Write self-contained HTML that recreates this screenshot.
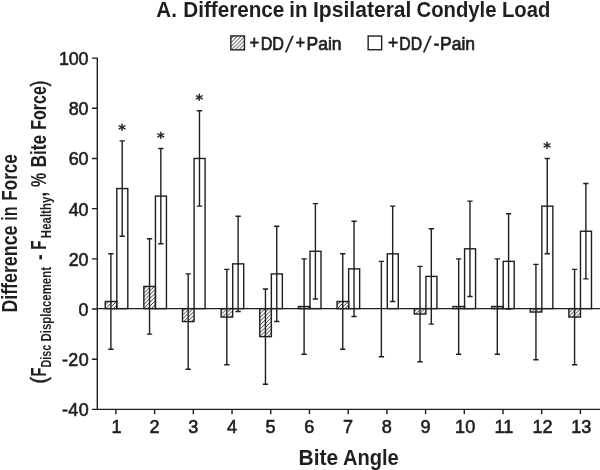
<!DOCTYPE html>
<html lang="en"><head><meta charset="utf-8"><title>A. Difference in Ipsilateral Condyle Load</title>
<style>
html,body{margin:0;padding:0;background:#fff;}
body{width:600px;height:470px;overflow:hidden;}
svg{display:block;font-family:"Liberation Sans",sans-serif;}
.b{font-weight:bold;}
</style></head><body>
<svg width="600" height="470" viewBox="0 0 600 470">
<defs>
<pattern id="h" width="3.8" height="3.8" patternUnits="userSpaceOnUse">
<rect width="3.8" height="3.8" fill="#fff"/>
<path d="M-0.95,0.95 L0.95,-0.95 M0,3.8 L3.8,0 M2.85,4.75 L4.75,2.85" stroke="#262626" stroke-width="0.92"/>
</pattern>
</defs>
<rect width="600" height="470" fill="#fff"/>

<rect x="230.85" y="35.95" width="13.6" height="13.9" fill="url(#h)" stroke="#1f1f1f" stroke-width="1.4"/>
<rect x="368.15" y="36.05" width="13.5" height="13.7" fill="#fff" stroke="#1f1f1f" stroke-width="1.4"/>
<g><rect x="105.20" y="301.50" width="11.60" height="7.13" fill="url(#h)"/>
<rect x="116.80" y="188.58" width="11.00" height="120.05" fill="#fff"/>
<rect x="105.20" y="301.50" width="11.60" height="7.13" fill="none" stroke="#1f1f1f" stroke-width="1.4"/>
<path d="M110.90,253.82V349.18M108.25,253.82h5.3M108.25,349.18h5.3" fill="none" stroke="#1f1f1f" stroke-width="1.4"/>
<rect x="116.80" y="188.58" width="11.00" height="120.05" fill="none" stroke="#1f1f1f" stroke-width="1.4"/>
<path d="M122.20,140.91V236.26M119.55,140.91h5.3M119.55,236.26h5.3" fill="none" stroke="#1f1f1f" stroke-width="1.4"/>
<rect x="143.84" y="286.44" width="11.60" height="22.18" fill="url(#h)"/>
<rect x="155.44" y="196.11" width="11.00" height="112.52" fill="#fff"/>
<rect x="143.84" y="286.44" width="11.60" height="22.18" fill="none" stroke="#1f1f1f" stroke-width="1.4"/>
<path d="M149.54,238.77V334.12M146.89,238.77h5.3M146.89,334.12h5.3" fill="none" stroke="#1f1f1f" stroke-width="1.4"/>
<rect x="155.44" y="196.11" width="11.00" height="112.52" fill="none" stroke="#1f1f1f" stroke-width="1.4"/>
<path d="M160.84,148.43V243.79M158.19,148.43h5.3M158.19,243.79h5.3" fill="none" stroke="#1f1f1f" stroke-width="1.4"/>
<rect x="182.48" y="308.63" width="11.60" height="12.95" fill="url(#h)"/>
<rect x="194.08" y="158.47" width="11.00" height="150.16" fill="#fff"/>
<rect x="182.48" y="308.63" width="11.60" height="12.95" fill="none" stroke="#1f1f1f" stroke-width="1.4"/>
<path d="M188.18,273.90V369.25M185.53,273.90h5.3M185.53,369.25h5.3" fill="none" stroke="#1f1f1f" stroke-width="1.4"/>
<rect x="194.08" y="158.47" width="11.00" height="150.16" fill="none" stroke="#1f1f1f" stroke-width="1.4"/>
<path d="M199.48,110.79V206.15M196.83,110.79h5.3M196.83,206.15h5.3" fill="none" stroke="#1f1f1f" stroke-width="1.4"/>
<rect x="221.12" y="308.63" width="11.60" height="8.43" fill="url(#h)"/>
<rect x="232.72" y="263.86" width="11.00" height="44.77" fill="#fff"/>
<rect x="221.12" y="308.63" width="11.60" height="8.43" fill="none" stroke="#1f1f1f" stroke-width="1.4"/>
<path d="M226.82,269.38V364.73M224.17,269.38h5.3M224.17,364.73h5.3" fill="none" stroke="#1f1f1f" stroke-width="1.4"/>
<rect x="232.72" y="263.86" width="11.00" height="44.77" fill="none" stroke="#1f1f1f" stroke-width="1.4"/>
<path d="M238.12,216.18V311.54M235.47,216.18h5.3M235.47,311.54h5.3" fill="none" stroke="#1f1f1f" stroke-width="1.4"/>
<rect x="259.76" y="308.63" width="11.60" height="28.00" fill="url(#h)"/>
<rect x="271.36" y="273.90" width="11.00" height="34.73" fill="#fff"/>
<rect x="259.76" y="308.63" width="11.60" height="28.00" fill="none" stroke="#1f1f1f" stroke-width="1.4"/>
<path d="M265.46,288.95V384.31M262.81,288.95h5.3M262.81,384.31h5.3" fill="none" stroke="#1f1f1f" stroke-width="1.4"/>
<rect x="271.36" y="273.90" width="11.00" height="34.73" fill="none" stroke="#1f1f1f" stroke-width="1.4"/>
<path d="M276.76,226.22V321.57M274.11,226.22h5.3M274.11,321.57h5.3" fill="none" stroke="#1f1f1f" stroke-width="1.4"/>
<rect x="298.40" y="306.52" width="11.60" height="2.11" fill="url(#h)"/>
<rect x="310.00" y="251.31" width="11.00" height="57.31" fill="#fff"/>
<rect x="298.40" y="306.52" width="11.60" height="2.11" fill="none" stroke="#1f1f1f" stroke-width="1.4"/>
<path d="M304.10,258.84V354.20M301.45,258.84h5.3M301.45,354.20h5.3" fill="none" stroke="#1f1f1f" stroke-width="1.4"/>
<rect x="310.00" y="251.31" width="11.00" height="57.31" fill="none" stroke="#1f1f1f" stroke-width="1.4"/>
<path d="M315.40,203.64V298.99M312.75,203.64h5.3M312.75,298.99h5.3" fill="none" stroke="#1f1f1f" stroke-width="1.4"/>
<rect x="337.04" y="301.50" width="11.60" height="7.13" fill="url(#h)"/>
<rect x="348.64" y="268.88" width="11.00" height="39.75" fill="#fff"/>
<rect x="337.04" y="301.50" width="11.60" height="7.13" fill="none" stroke="#1f1f1f" stroke-width="1.4"/>
<path d="M342.74,253.82V349.18M340.09,253.82h5.3M340.09,349.18h5.3" fill="none" stroke="#1f1f1f" stroke-width="1.4"/>
<rect x="348.64" y="268.88" width="11.00" height="39.75" fill="none" stroke="#1f1f1f" stroke-width="1.4"/>
<path d="M354.04,221.20V316.56M351.39,221.20h5.3M351.39,316.56h5.3" fill="none" stroke="#1f1f1f" stroke-width="1.4"/>
<rect x="387.28" y="253.82" width="11.00" height="54.80" fill="#fff"/>
<path d="M381.38,261.35V356.70M378.73,261.35h5.3M378.73,356.70h5.3" fill="none" stroke="#1f1f1f" stroke-width="1.4"/>
<rect x="387.28" y="253.82" width="11.00" height="54.80" fill="none" stroke="#1f1f1f" stroke-width="1.4"/>
<path d="M392.68,206.15V301.50M390.03,206.15h5.3M390.03,301.50h5.3" fill="none" stroke="#1f1f1f" stroke-width="1.4"/>
<rect x="414.32" y="308.63" width="11.60" height="5.42" fill="url(#h)"/>
<rect x="425.92" y="276.41" width="11.00" height="32.22" fill="#fff"/>
<rect x="414.32" y="308.63" width="11.60" height="5.42" fill="none" stroke="#1f1f1f" stroke-width="1.4"/>
<path d="M420.02,266.37V361.72M417.37,266.37h5.3M417.37,361.72h5.3" fill="none" stroke="#1f1f1f" stroke-width="1.4"/>
<rect x="425.92" y="276.41" width="11.00" height="32.22" fill="none" stroke="#1f1f1f" stroke-width="1.4"/>
<path d="M431.32,228.73V324.08M428.67,228.73h5.3M428.67,324.08h5.3" fill="none" stroke="#1f1f1f" stroke-width="1.4"/>
<rect x="452.96" y="306.52" width="11.60" height="2.11" fill="url(#h)"/>
<rect x="464.56" y="248.81" width="11.00" height="59.82" fill="#fff"/>
<rect x="452.96" y="306.52" width="11.60" height="2.11" fill="none" stroke="#1f1f1f" stroke-width="1.4"/>
<path d="M458.66,258.84V354.20M456.01,258.84h5.3M456.01,354.20h5.3" fill="none" stroke="#1f1f1f" stroke-width="1.4"/>
<rect x="464.56" y="248.81" width="11.00" height="59.82" fill="none" stroke="#1f1f1f" stroke-width="1.4"/>
<path d="M469.96,201.13V296.48M467.31,201.13h5.3M467.31,296.48h5.3" fill="none" stroke="#1f1f1f" stroke-width="1.4"/>
<rect x="491.60" y="306.52" width="11.60" height="2.11" fill="url(#h)"/>
<rect x="503.20" y="261.35" width="11.00" height="47.28" fill="#fff"/>
<rect x="491.60" y="306.52" width="11.60" height="2.11" fill="none" stroke="#1f1f1f" stroke-width="1.4"/>
<path d="M497.30,258.84V354.20M494.65,258.84h5.3M494.65,354.20h5.3" fill="none" stroke="#1f1f1f" stroke-width="1.4"/>
<rect x="503.20" y="261.35" width="11.00" height="47.28" fill="none" stroke="#1f1f1f" stroke-width="1.4"/>
<path d="M508.60,213.68V309.03M505.95,213.68h5.3M505.95,309.03h5.3" fill="none" stroke="#1f1f1f" stroke-width="1.4"/>
<rect x="530.24" y="308.63" width="11.60" height="3.41" fill="url(#h)"/>
<rect x="541.84" y="206.15" width="11.00" height="102.48" fill="#fff"/>
<rect x="530.24" y="308.63" width="11.60" height="3.41" fill="none" stroke="#1f1f1f" stroke-width="1.4"/>
<path d="M535.94,264.36V359.72M533.29,264.36h5.3M533.29,359.72h5.3" fill="none" stroke="#1f1f1f" stroke-width="1.4"/>
<rect x="541.84" y="206.15" width="11.00" height="102.48" fill="none" stroke="#1f1f1f" stroke-width="1.4"/>
<path d="M547.24,158.47V253.82M544.59,158.47h5.3M544.59,253.82h5.3" fill="none" stroke="#1f1f1f" stroke-width="1.4"/>
<rect x="568.88" y="308.63" width="11.60" height="8.43" fill="url(#h)"/>
<rect x="580.48" y="231.24" width="11.00" height="77.39" fill="#fff"/>
<rect x="568.88" y="308.63" width="11.60" height="8.43" fill="none" stroke="#1f1f1f" stroke-width="1.4"/>
<path d="M574.58,269.38V364.73M571.93,269.38h5.3M571.93,364.73h5.3" fill="none" stroke="#1f1f1f" stroke-width="1.4"/>
<rect x="580.48" y="231.24" width="11.00" height="77.39" fill="none" stroke="#1f1f1f" stroke-width="1.4"/>
<path d="M585.88,183.56V278.92M583.23,183.56h5.3M583.23,278.92h5.3" fill="none" stroke="#1f1f1f" stroke-width="1.4"/></g>
<path d="M97.3,57.50V410.00M92,409.40H600M97.3,308.63H600M91.9,58.10H97.3M91.9,108.29H97.3M91.9,158.47H97.3M91.9,208.66H97.3M91.9,258.84H97.3M91.9,309.03H97.3M91.9,359.21H97.3M91.9,409.40H97.3M115.90,409.40V414.3M154.61,409.40V414.3M193.32,409.40V414.3M232.03,409.40V414.3M270.74,409.40V414.3M309.45,409.40V414.3M348.16,409.40V414.3M386.87,409.40V414.3M425.58,409.40V414.3M464.29,409.40V414.3M503.00,409.40V414.3M541.71,409.40V414.3M580.42,409.40V414.3" fill="none" stroke="#1f1f1f" stroke-width="1.4"/>
<text x="88.2" y="65.10" font-size="17.9" text-anchor="end" letter-spacing="-0.25" fill="#1f1f1f" stroke="#1f1f1f" stroke-width="0.6">100</text>
<text x="88.2" y="115.29" font-size="17.9" text-anchor="end" letter-spacing="-0.25" fill="#1f1f1f" stroke="#1f1f1f" stroke-width="0.6">80</text>
<text x="88.2" y="165.47" font-size="17.9" text-anchor="end" letter-spacing="-0.25" fill="#1f1f1f" stroke="#1f1f1f" stroke-width="0.6">60</text>
<text x="88.2" y="215.66" font-size="17.9" text-anchor="end" letter-spacing="-0.25" fill="#1f1f1f" stroke="#1f1f1f" stroke-width="0.6">40</text>
<text x="88.2" y="265.84" font-size="17.9" text-anchor="end" letter-spacing="-0.25" fill="#1f1f1f" stroke="#1f1f1f" stroke-width="0.6">20</text>
<text x="88.2" y="316.03" font-size="17.9" text-anchor="end" letter-spacing="-0.25" fill="#1f1f1f" stroke="#1f1f1f" stroke-width="0.6">0</text>
<text x="89.1" y="366.21" font-size="17.9" text-anchor="end" letter-spacing="0.45" fill="#1f1f1f" stroke="#1f1f1f" stroke-width="0.6">-20</text>
<text x="89.1" y="416.40" font-size="17.9" text-anchor="end" letter-spacing="0.45" fill="#1f1f1f" stroke="#1f1f1f" stroke-width="0.6">-40</text>
<text x="116.50" y="432.5" font-size="18.1" text-anchor="middle" fill="#1f1f1f" stroke="#1f1f1f" stroke-width="0.6">1</text>
<text x="154.51" y="432.5" font-size="18.1" text-anchor="middle" fill="#1f1f1f" stroke="#1f1f1f" stroke-width="0.6">2</text>
<text x="193.22" y="432.5" font-size="18.1" text-anchor="middle" fill="#1f1f1f" stroke="#1f1f1f" stroke-width="0.6">3</text>
<text x="231.93" y="432.5" font-size="18.1" text-anchor="middle" fill="#1f1f1f" stroke="#1f1f1f" stroke-width="0.6">4</text>
<text x="270.64" y="432.5" font-size="18.1" text-anchor="middle" fill="#1f1f1f" stroke="#1f1f1f" stroke-width="0.6">5</text>
<text x="309.35" y="432.5" font-size="18.1" text-anchor="middle" fill="#1f1f1f" stroke="#1f1f1f" stroke-width="0.6">6</text>
<text x="348.06" y="432.5" font-size="18.1" text-anchor="middle" fill="#1f1f1f" stroke="#1f1f1f" stroke-width="0.6">7</text>
<text x="386.77" y="432.5" font-size="18.1" text-anchor="middle" fill="#1f1f1f" stroke="#1f1f1f" stroke-width="0.6">8</text>
<text x="425.48" y="432.5" font-size="18.1" text-anchor="middle" fill="#1f1f1f" stroke="#1f1f1f" stroke-width="0.6">9</text>
<text x="465.19" y="432.5" font-size="18.1" text-anchor="middle" fill="#1f1f1f" stroke="#1f1f1f" stroke-width="0.6">10</text>
<text x="503.90" y="432.5" font-size="18.1" text-anchor="middle" fill="#1f1f1f" stroke="#1f1f1f" stroke-width="0.6">11</text>
<text x="542.61" y="432.5" font-size="18.1" text-anchor="middle" fill="#1f1f1f" stroke="#1f1f1f" stroke-width="0.6">12</text>
<text x="581.32" y="432.5" font-size="18.1" text-anchor="middle" fill="#1f1f1f" stroke="#1f1f1f" stroke-width="0.6">13</text>
<text x="122.10" y="134.01" font-size="14.5" stroke="#1f1f1f" stroke-width="0.3" font-weight="bold" text-anchor="middle" font-family="DejaVu Sans, sans-serif" fill="#1f1f1f">*</text>
<text x="160.74" y="141.53" font-size="14.5" stroke="#1f1f1f" stroke-width="0.3" font-weight="bold" text-anchor="middle" font-family="DejaVu Sans, sans-serif" fill="#1f1f1f">*</text>
<text x="199.38" y="103.89" font-size="14.5" stroke="#1f1f1f" stroke-width="0.3" font-weight="bold" text-anchor="middle" font-family="DejaVu Sans, sans-serif" fill="#1f1f1f">*</text>
<text x="547.14" y="151.57" font-size="14.5" stroke="#1f1f1f" stroke-width="0.3" font-weight="bold" text-anchor="middle" font-family="DejaVu Sans, sans-serif" fill="#1f1f1f">*</text>
<text id="l2" transform="translate(285.0,52.4) skewX(-9)" font-size="22.2" fill="#1f1f1f" stroke="#1f1f1f" stroke-width="0.2">/</text>
<text id="m2" transform="translate(423.1,52.4) skewX(-9)" font-size="22.2" fill="#1f1f1f" stroke="#1f1f1f" stroke-width="0.2">/</text>
<text id="t1" class="b" x="156.32" y="16.7" font-size="21.6" fill="#1f1f1f" textLength="20.59" lengthAdjust="spacingAndGlyphs">A.</text>
<text id="t2" class="b" x="183.22" y="16.7" font-size="21.6" fill="#1f1f1f" textLength="101.07" lengthAdjust="spacingAndGlyphs">Difference</text>
<text id="t3" class="b" x="289.36" y="16.7" font-size="21.6" fill="#1f1f1f" textLength="18.24" lengthAdjust="spacingAndGlyphs">in</text>
<text id="t4" class="b" x="313.01" y="16.7" font-size="21.6" fill="#1f1f1f" textLength="98.44" lengthAdjust="spacingAndGlyphs">Ipsilateral</text>
<text id="t5" class="b" x="416.54" y="16.7" font-size="21.6" fill="#1f1f1f" textLength="80.01" lengthAdjust="spacingAndGlyphs">Condyle</text>
<text id="t6" class="b" x="501.97" y="16.7" font-size="21.6" fill="#1f1f1f" textLength="48.37" lengthAdjust="spacingAndGlyphs">Load</text>
<text id="l0" x="249.61" y="48.7" font-size="18.4" fill="#1f1f1f" stroke="#1f1f1f" stroke-width="0.7" textLength="9.64" lengthAdjust="spacingAndGlyphs">+</text>
<text id="l1" x="260.70" y="49.5" font-size="18.4" fill="#1f1f1f" stroke="#1f1f1f" stroke-width="0.7" textLength="23.32" lengthAdjust="spacingAndGlyphs">DD</text>
<text id="l3" x="295.77" y="48.7" font-size="18.4" fill="#1f1f1f" stroke="#1f1f1f" stroke-width="0.7" textLength="9.28" lengthAdjust="spacingAndGlyphs">+</text>
<text id="l4" x="306.54" y="49.5" font-size="18.4" fill="#1f1f1f" stroke="#1f1f1f" stroke-width="0.7" textLength="35.00" lengthAdjust="spacingAndGlyphs">Pain</text>
<text id="m0" x="387.94" y="48.7" font-size="18.4" fill="#1f1f1f" stroke="#1f1f1f" stroke-width="0.7" textLength="10.18" lengthAdjust="spacingAndGlyphs">+</text>
<text id="m1" x="399.32" y="49.5" font-size="18.4" fill="#1f1f1f" stroke="#1f1f1f" stroke-width="0.7" textLength="22.73" lengthAdjust="spacingAndGlyphs">DD</text>
<text id="m3" x="433.84" y="49.5" font-size="18.4" fill="#1f1f1f" stroke="#1f1f1f" stroke-width="0.7" textLength="5.51" lengthAdjust="spacingAndGlyphs">-</text>
<text id="m4" x="440.00" y="49.5" font-size="18.4" fill="#1f1f1f" stroke="#1f1f1f" stroke-width="0.7" textLength="35.00" lengthAdjust="spacingAndGlyphs">Pain</text>
<text id="x1" class="b" x="298.60" y="464.8" font-size="22.3" fill="#1f1f1f" textLength="39.55" lengthAdjust="spacingAndGlyphs">Bite</text>
<text id="x2" class="b" x="342.90" y="464.8" font-size="22.3" fill="#1f1f1f" textLength="55.85" lengthAdjust="spacingAndGlyphs">Angle</text>
<text id="y1" class="b" transform="translate(17.1,312.59) rotate(-90)" font-size="22.5" fill="#1f1f1f" textLength="87.01" lengthAdjust="spacingAndGlyphs">Difference</text>
<text id="y2" class="b" transform="translate(17.1,220.63) rotate(-90)" font-size="22.5" fill="#1f1f1f" textLength="14.38" lengthAdjust="spacingAndGlyphs">in</text>
<text id="y3" class="b" transform="translate(17.1,200.75) rotate(-90)" font-size="22.5" fill="#1f1f1f" textLength="46.59" lengthAdjust="spacingAndGlyphs">Force</text>
<text id="z1" transform="translate(46.3,383.55) rotate(-90)" font-size="21.4" fill="#1f1f1f" stroke="#1f1f1f" stroke-width="0.5" textLength="6.50" lengthAdjust="spacingAndGlyphs">(</text>
<text id="z2" class="b" transform="translate(46.3,376.47) rotate(-90)" font-size="21.4" fill="#1f1f1f" textLength="9.01" lengthAdjust="spacingAndGlyphs">F</text>
<text id="z3" class="b" transform="translate(51.0,367.61) rotate(-90)" font-size="14.8" fill="#1f1f1f" textLength="22.78" lengthAdjust="spacingAndGlyphs">Disc</text>
<text id="z4" class="b" transform="translate(51.0,341.51) rotate(-90)" font-size="14.8" fill="#1f1f1f" textLength="74.57" lengthAdjust="spacingAndGlyphs">Displacement</text>
<text id="z5" class="b" transform="translate(46.3,260.07) rotate(-90)" font-size="21.4" fill="#1f1f1f" textLength="5.62" lengthAdjust="spacingAndGlyphs">-</text>
<text id="z6" class="b" transform="translate(46.3,249.69) rotate(-90)" font-size="21.4" fill="#1f1f1f" textLength="9.28" lengthAdjust="spacingAndGlyphs">F</text>
<text id="z7" class="b" transform="translate(51.0,238.14) rotate(-90)" font-size="14.8" fill="#1f1f1f" textLength="41.39" lengthAdjust="spacingAndGlyphs">Healthy</text>
<text id="z8" class="b" transform="translate(46.3,196.81) rotate(-90)" font-size="21.4" fill="#1f1f1f" textLength="4.92" lengthAdjust="spacingAndGlyphs">,</text>
<text id="z9" class="b" transform="translate(46.3,186.88) rotate(-90)" font-size="21.4" fill="#1f1f1f" textLength="14.19" lengthAdjust="spacingAndGlyphs">%</text>
<text id="z10" class="b" transform="translate(46.3,167.42) rotate(-90)" font-size="21.4" fill="#1f1f1f" textLength="32.47" lengthAdjust="spacingAndGlyphs">Bite</text>
<text id="z11" class="b" transform="translate(46.3,129.77) rotate(-90)" font-size="21.4" fill="#1f1f1f" textLength="43.58" lengthAdjust="spacingAndGlyphs">Force</text>
<text id="z12" transform="translate(46.3,86.38) rotate(-90)" font-size="21.4" fill="#1f1f1f" stroke="#1f1f1f" stroke-width="0.5" textLength="6.02" lengthAdjust="spacingAndGlyphs">)</text>
</svg></body></html>
